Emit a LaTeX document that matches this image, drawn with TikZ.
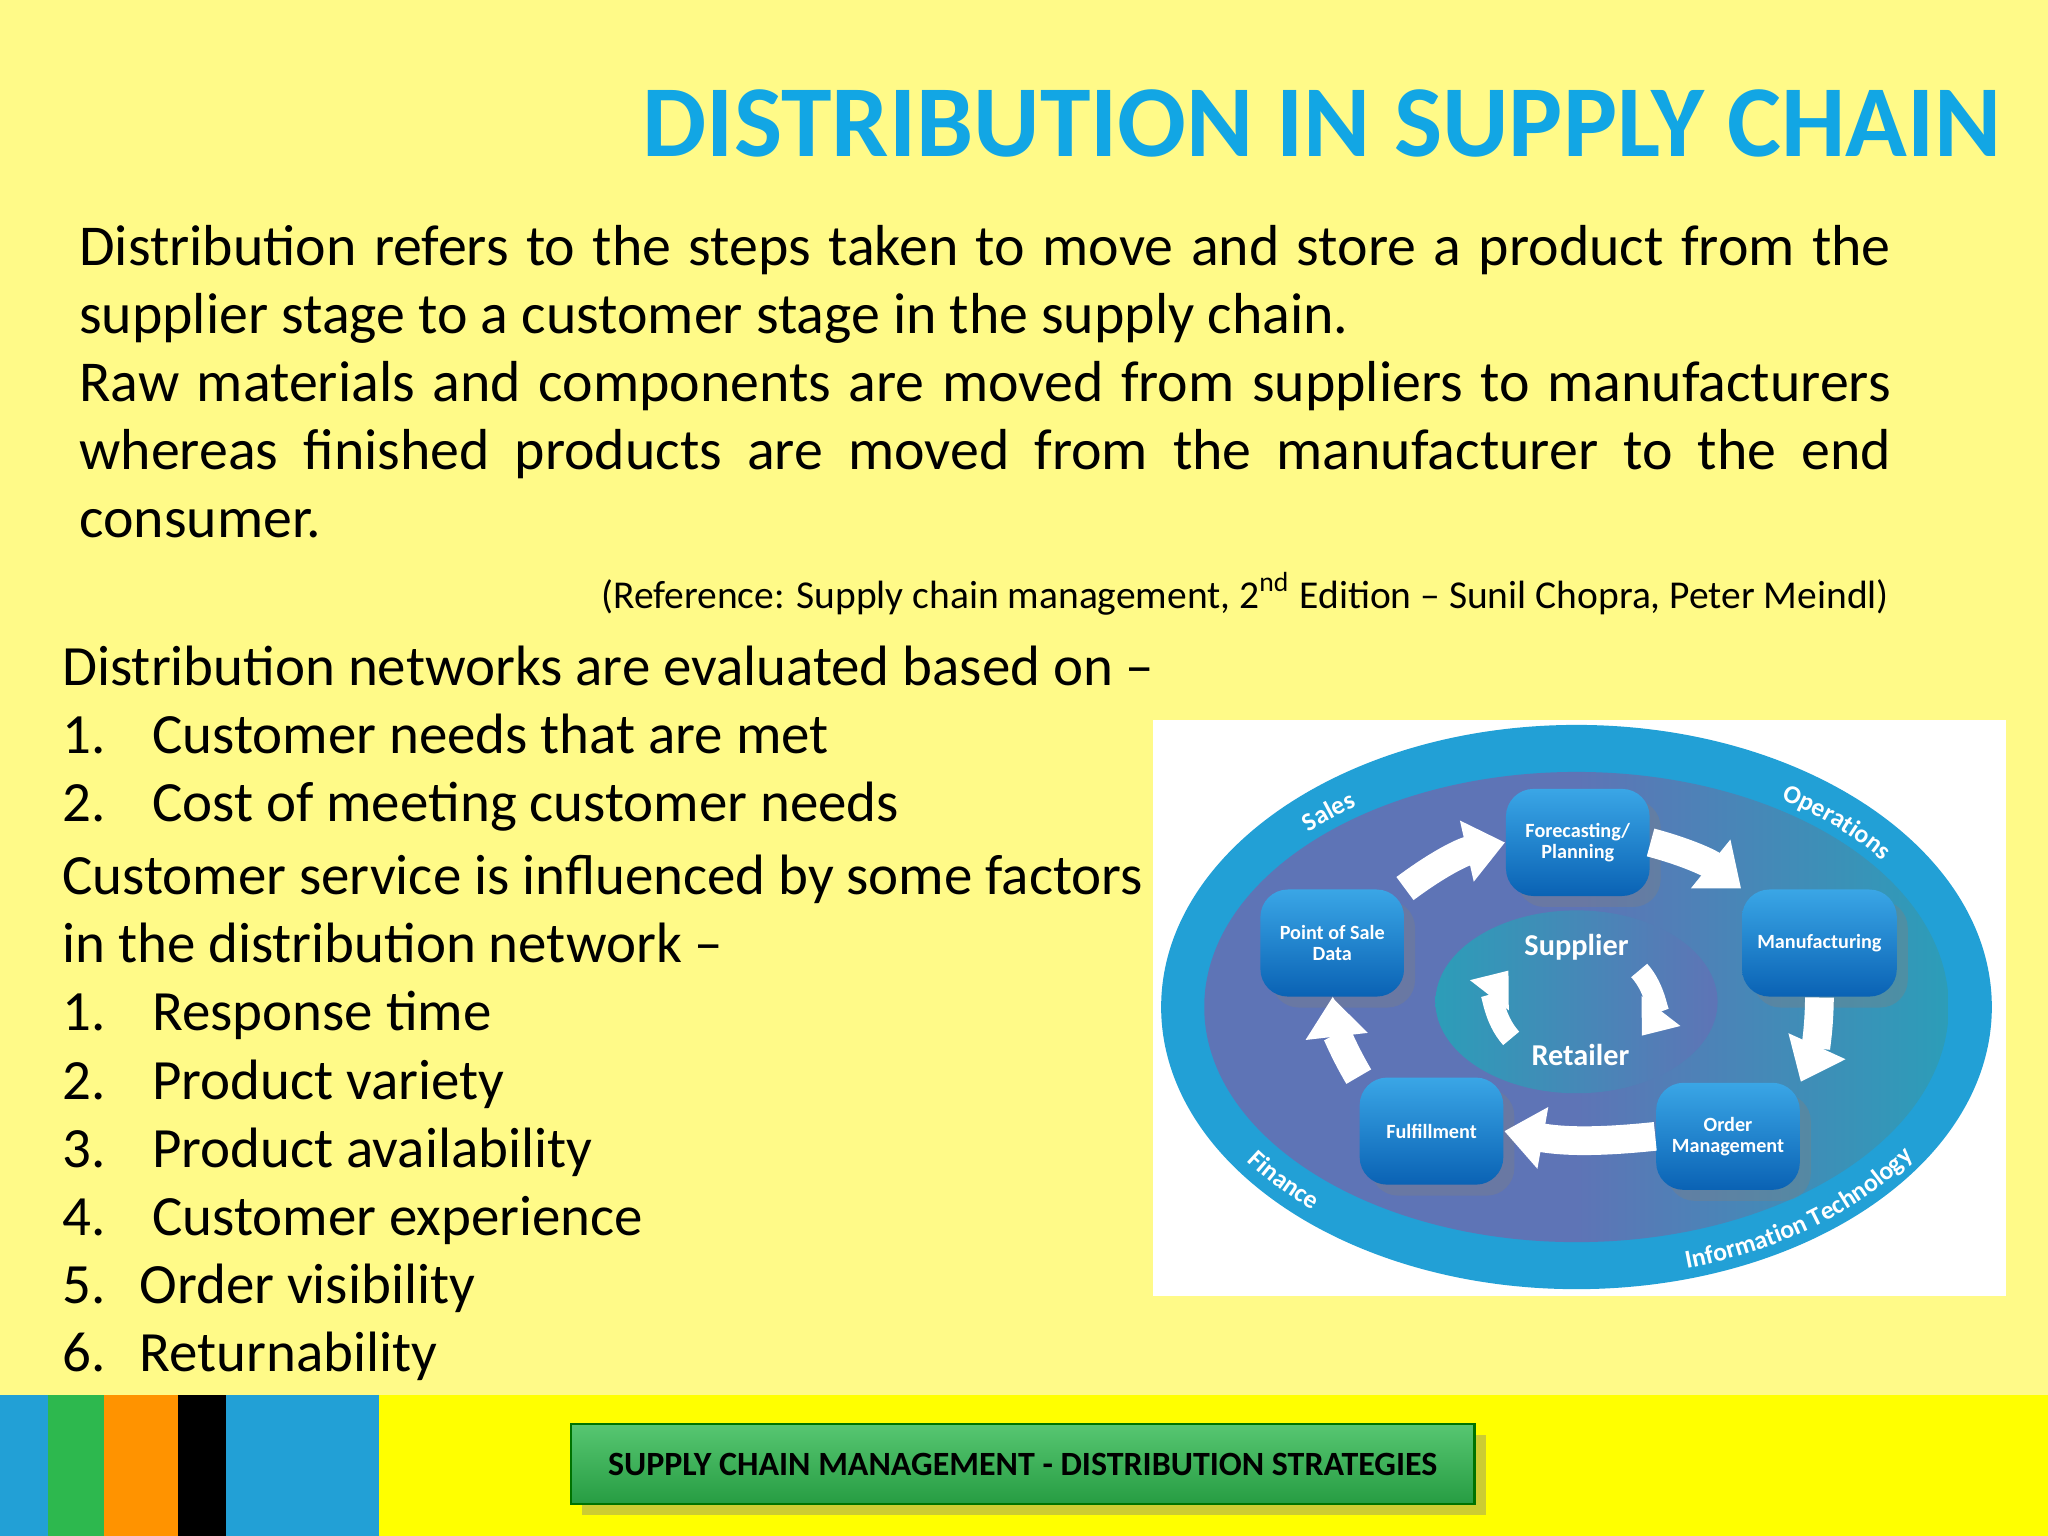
\documentclass[tikz,border=0pt]{standalone}
\usepackage{fontspec}
\setmainfont{Carlito}
\usetikzlibrary{decorations.text,arrows.meta,shadows}
\definecolor{bgy}{HTML}{FFFA88}
\definecolor{bary}{HTML}{FFFF00}
\definecolor{ttl}{HTML}{12A6E4}
\definecolor{ttlo}{HTML}{0A6FA8}
\definecolor{ringc}{HTML}{22A0D6}
\definecolor{innp}{HTML}{5E74B6}
\definecolor{innt}{HTML}{2C9DB8}
\definecolor{boxa}{HTML}{3AA6E6}
\definecolor{boxb}{HTML}{0A62B4}
\definecolor{btng}{HTML}{2DB84E}
\tikzset{
 listline/.style={anchor=base west,inner sep=0pt,font=\fontsize{12.4}{15}\selectfont},
 pbox/.style={rounded corners=6pt,minimum width=11mm,minimum height=8.2mm,top color=boxa,bottom color=boxb,
   text=white,font=\bfseries\fontsize{4.4}{4.6}\selectfont,align=center,drop shadow={opacity=0.35}},
 warr/.style={white,line width=2.2mm,-{Triangle[width=4.6mm,length=3mm]}},
 ringtxt/.style={decorate,decoration={text along path,text align=center,
   text={|\color{white}\bfseries\fontsize{5.6}{6}\selectfont|#1}}}
}
\begin{document}
\begin{tikzpicture}[x=0.1mm,y=-0.1mm]
\useasboundingbox (0,0) rectangle (1568,1176);
\fill[bgy] (0,0) rectangle (1568,1176);
% title
\node[anchor=base east,inner sep=0pt,text=ttl] (title) at (1533,120)
  {\resizebox{104mm}{!}{\bfseries DISTRIBUTION IN SUPPLY CHAIN}};
% paragraph
\node[anchor=north west,inner sep=0pt,text width=138.7mm,align=justify,
  font=\fontsize{12.6}{14.8}\selectfont] (para) at (60,172)
{\hyphenpenalty=10000 Distribution refers to the steps taken to move and store a product from the supplier stage to a customer stage in the supply chain.\par
Raw materials and components are moved from suppliers to manufacturers\linebreak whereas finished products are moved from the manufacturer to the end\linebreak consumer.};
\node[anchor=base east,inner sep=0pt,font=\fontsize{8.6}{11}\selectfont] (ref) at (1447,466)
 {(Reference: Supply chain management, 2\textsuperscript{nd} Edition -- Sunil Chopra, Peter Meindl)};
% list
\node[listline] (l0) at (47,525) {Distribution networks are evaluated based on --};
\node[listline] (n1) at (47,577) {1.}; \node[listline] (t1) at (116,577) {Customer needs that are met};
\node[listline] (n2) at (47,629) {2.}; \node[listline] (t2) at (116,629) {Cost of meeting customer needs};
\node[listline] (l3) at (47,685) {Customer service is influenced by some factors};
\node[listline] (l4) at (47,737) {in the distribution network --};
\node[listline] (n5) at (47,789) {1.}; \node[listline] (t5) at (116,789) {Response time};
\node[listline] (n6) at (47,842) {2.}; \node[listline] (t6) at (116,842) {Product variety};
\node[listline] (n7) at (47,894) {3.}; \node[listline] (t7) at (116,894) {Product availability};
\node[listline] (n8) at (47,946) {4.}; \node[listline] (t8) at (116,946) {Customer experience};
\node[listline] (n9) at (47,998) {5.}; \node[listline] (t9) at (106,998) {Order visibility};
\node[listline] (n10) at (47,1050) {6.}; \node[listline] (t10) at (106,1050) {Returnability};
% diagram
\fill[white] (883,551) rectangle (1536,992);
\begin{scope}[shift={(1207,771)},y=0.1mm]
 \fill[ringc] (0,0) ellipse[x radius=318,y radius=216];
 \shade[left color=innp,right color=innt,middle color=innp] (0,0) ellipse[x radius=285,y radius=180];
 \shade[left color=innt,right color=innp] (0,4) ellipse[x radius=108,y radius=70];
 \draw[ringtxt=Sales] ({292*cos(150)},{188*sin(150)}) arc[start angle=150,end angle=112,x radius=292,y radius=188];
 \draw[ringtxt=Operations] ({292*cos(72)},{188*sin(72)}) arc[start angle=72,end angle=18,x radius=292,y radius=188];
 \draw[ringtxt=Finance] ({308*cos(198)},{206*sin(198)}) arc[start angle=198,end angle=243,x radius=308,y radius=206];
 \draw[ringtxt=Information Technology] ({310*cos(272)},{208*sin(272)}) arc[start angle=272,end angle=345,x radius=310,y radius=208];
 \node[pbox] (fc) at (1,126) {Forecasting/\\Planning};
 \node[pbox] (pos) at (-187,49) {Point of Sale\\Data};
 \node[pbox] (mf) at (186,49) {Manufacturing};
 \node[pbox] (ff) at (-111,-95) {Fulfillment};
 \node[pbox] (om) at (116,-99) {Order\\Management};
 \draw[warr] (pos.north east) to[bend left=12] (fc.west);
 \draw[warr] (fc.east) to[bend left=12] (mf.north west);
 \draw[warr] (mf.south) to[bend left=12] (om.north east);
 \draw[warr] (om.west) to[bend left=8] (ff.east);
 \draw[warr] (ff.north west) to[bend left=12] (pos.south);
 \node[text=white,font=\bfseries\fontsize{6.6}{7}\selectfont] (sup) at (0,46) {Supplier};
 \node[text=white,font=\bfseries\fontsize{6.6}{7}\selectfont] (ret) at (3,-37) {Retailer};
 \coordinate (la) at (-50,-24); \coordinate (lb) at (-52,28);
 \coordinate (ra) at (48,28); \coordinate (rb) at (50,-22);
 \draw[white,line width=1.6mm,-{Triangle[width=3.6mm,length=2.4mm]}] (la) to[bend left=40] (lb);
 \draw[white,line width=1.6mm,-{Triangle[width=3.6mm,length=2.4mm]}] (ra) to[bend left=40] (rb);
\end{scope}
% bottom bar
\fill[bary] (0,1068) rectangle (1568,1176);
\fill[ringc] (0,1068) rectangle (37,1176);
\fill[btng] (37,1068) rectangle (80,1176);
\fill[orange!85!yellow] (80,1068) rectangle (136,1176);
\fill[black] (136,1068) rectangle (173,1176);
\fill[ringc] (173,1068) rectangle (290,1176);
\node[draw=green!45!black,line width=0.5pt,top color=btng!80!white,bottom color=btng!85!black,
  minimum width=69.2mm,minimum height=6.1mm,inner sep=0pt,drop shadow={opacity=0.4},
  font=\bfseries\fontsize{7.4}{8}\selectfont] (btn) at (783,1121)
  {SUPPLY CHAIN MANAGEMENT - DISTRIBUTION STRATEGIES};
\end{tikzpicture}
\end{document}
